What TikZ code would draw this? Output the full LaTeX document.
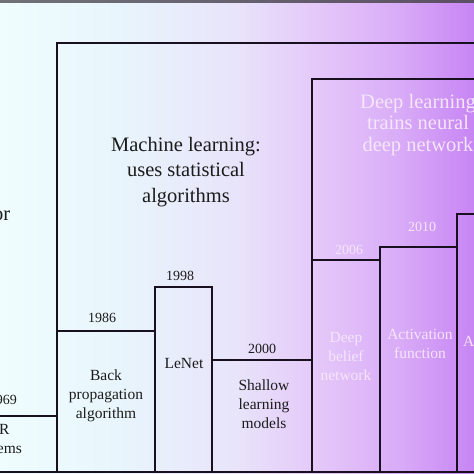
\documentclass[tikz,border=0pt]{standalone}
\usepackage{fontspec}
\setmainfont{Liberation Serif}
\begin{document}
% palette
\definecolor{bgA}{HTML}{EFFDFE}
\definecolor{bgB}{HTML}{E8F5FC}
\definecolor{bgC}{HTML}{E8E4FA}
\definecolor{bgD}{HTML}{E4C6F9}
\definecolor{bgE}{HTML}{D9ACF7}
\definecolor{bgF}{HTML}{C785F4}
\definecolor{inkdark}{HTML}{1C1C1C}
\definecolor{inklight}{HTML}{F5E6FB}
\definecolor{edge}{HTML}{18101F}
\definecolor{capL}{HTML}{707278}
\definecolor{capR}{HTML}{5C5064}
% the soft cyan-to-violet wash behind the timeline
\pgfdeclarehorizontalshading{wash}{100bp}{%
  color(0bp)=(bgA); color(25bp)=(bgA); color(37.5bp)=(bgB);
  color(50bp)=(bgC); color(59bp)=(bgD); color(67bp)=(bgE);
  color(75bp)=(bgF); color(100bp)=(bgF)}
\tikzset{
  frame/.style={draw=edge, line width=2pt},
  base/.style={draw=edge, line width=2.6pt},
  year/.style={font=\fontsize{14}{16}\selectfont, inner sep=0pt},
  stage/.style={font=\fontsize{15.5}{19}\selectfont, align=center, inner sep=0pt},
  era/.style={font=\fontsize{20.5}{25.5}\selectfont, align=center, inner sep=0pt},
  dark/.style={text=inkdark},
  light/.style={text=inklight},
}
\begin{tikzpicture}[x=1pt, y=-1pt]
  \useasboundingbox (0,0) rectangle (474,474);
  \clip (0,0) rectangle (474,474);
  % background
  \fill[shading=wash] (0,0) rectangle (474,474);
  \shade[left color=capL, right color=capR] (0,0) rectangle (474,2.2);

  % nested era frames
  \draw[frame] (57,472) -- (57,43) -- (480,43);
  \draw[frame] (312,472) -- (312,79) -- (480,79);

  % milestone steps
  \draw[frame] (-5,472) rectangle (57,416);
  \draw[frame] (57,472) rectangle (155,331);
  \draw[frame] (155,472) rectangle (212,287);
  \draw[frame] (212,472) rectangle (312,360);
  \draw[frame] (312,472) rectangle (380,260);
  \draw[frame] (380,472) rectangle (457,247);
  \draw[frame] (457,472) rectangle (490,214);
  \draw[base] (0,471.8) -- (474,471.8);

  % era captions
  \node[era, dark, anchor=east] (ai) at (10.5,216) {or};
  \node[era, dark] (ml) at (186,172) {Machine learning:\\uses statistical\\algorithms};
  \node[era, light, font=\fontsize{20.5}{21.5}\selectfont] (dl) at (418,125)
       {Deep learning\\trains neural\\deep network};

  % years
  \node[year, dark]  (y1969) at (3,400) {1969};
  \node[year, dark]  (y1986) at (102,318) {1986};
  \node[year, dark]  (y1998) at (180,276) {1998};
  \node[year, dark]  (y2000) at (262,349) {2000};
  \node[year, light] (y2006) at (349,250) {2006};
  \node[year, light] (y2010) at (422,227) {2010};

  % milestone labels
  \node[stage, dark]  (xor)  at (-7,441) {XOR\\problems};
  \node[stage, dark]  (bp)   at (106,396) {Back\\propagation\\algorithm};
  \node[stage, dark]  (lenet) at (184,363) {LeNet};
  \node[stage, dark]  (slm)  at (264,404) {Shallow\\learning\\models};
  \node[stage, light] (dbn)  at (346,356) {Deep\\belief\\network};
  \node[stage, light] (act)  at (420,344) {Activation\\function};
  \node[stage, light, anchor=west] (att) at (463,341) {A};
\end{tikzpicture}
\end{document}
